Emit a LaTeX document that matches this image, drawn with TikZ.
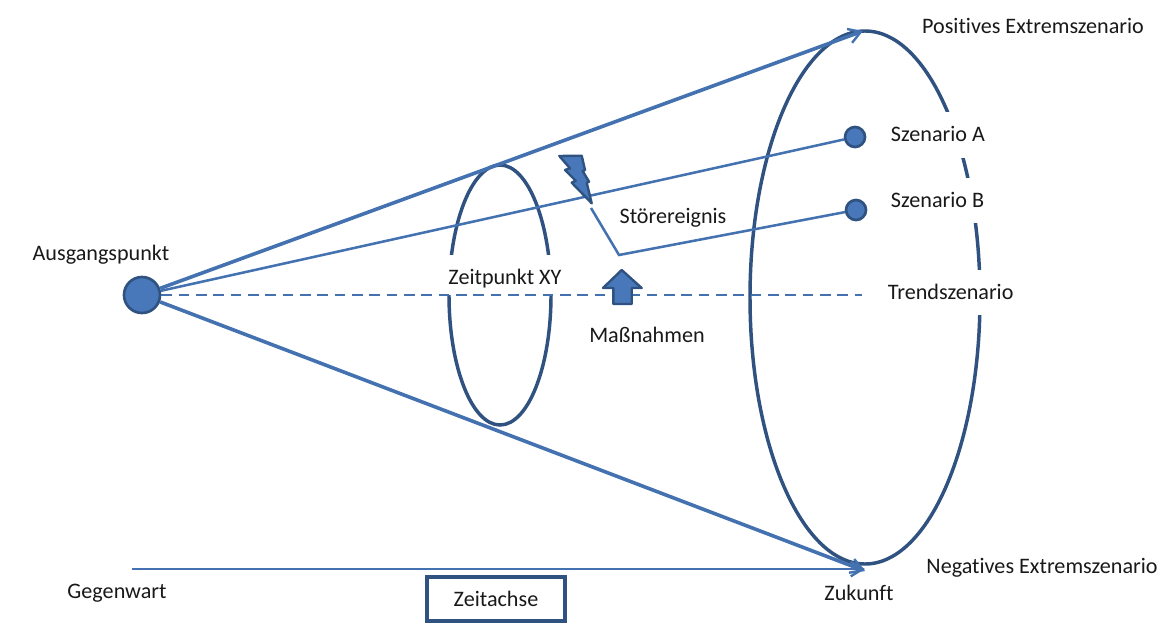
\documentclass[tikz,border=0pt]{standalone}
\usepackage{fontspec}
\setmainfont{Carlito}[Ligatures=NoCommon]
\usetikzlibrary{arrows.meta,calc,positioning,shapes.geometric}
\definecolor{rimblue}{RGB}{47,82,128}
\definecolor{lineblue}{RGB}{68,114,176}
\definecolor{fillblue}{RGB}{72,120,186}
\tikzset{
  lab/.style={font=\fontsize{16.6}{18}\selectfont,text=black!90,inner sep=0pt},
  cover/.style={lab,fill=white,text height=22pt,text depth=12pt,inner xsep=2pt},
  rim/.style={ellipse,draw=rimblue,line width=2.6pt,inner sep=0pt},
  ray/.style={draw=lineblue,line width=2.7pt},
  thinray/.style={draw=lineblue,line width=1.9pt},
  tip/.style={-{Straight Barb[length=9pt,width=11pt,line width=1.8pt]}},
  dot/.style={circle,draw=rimblue,fill=fillblue,line width=2pt,inner sep=0pt}
}
\begin{document}
\begin{tikzpicture}[x=0.75pt,y=-0.75pt]
  \useasboundingbox (0,0) rectangle (1170,628);
  % Ellipses first, the labels blank them out.
  \node[rim,minimum width=172.5pt,minimum height=399.75pt] (far) at (865,297.5) {};
  \node[rim,minimum width=76.5pt,minimum height=195pt] (near) at (500,295) {};
  \node[cover,anchor=west] (labA) at (888,135) {Szenario A};
  \node[cover,anchor=west] (labB) at (888,200.5) {Szenario B};
  \node[cover,anchor=west] (labT) at (885,292.5) {Trendszenario};
  \node[cover,text height=21.75pt,text depth=8.25pt] (labXY) at (505,275) {Zeitpunkt XY};
  % Start point and scenario ends.
  \node[dot,minimum size=27pt] (start) at (142,295) {};
  \node[dot,minimum size=15pt] (endA) at (855,137) {};
  \node[dot,minimum size=15pt] (endB) at (856,210) {};
  \coordinate (top) at (863,31);
  \coordinate (bottom) at (865,571);
  \coordinate (trend) at (862,295);
  \coordinate (now) at (132,569);
  \coordinate (later) at (865,569);
  \coordinate (hit) at (591,208);
  \coordinate (bend) at (619,255);
  \draw[ray,tip] (start) -- (top);
  \draw[ray,tip] (start) -- (bottom);
  \draw[thinray,tip] (now) -- (later);
  \draw[thinray] (start) -- (endA);
  \draw[thinray,dashed,dash pattern=on 8pt off 5pt] (start) -- (trend);
  \draw[thinray] (hit) -- (bend) -- (endB);
  % Lightning.
  \draw[rimblue,fill=fillblue,line width=1.8pt,line join=round]
    (559.3,156) -- (581.7,155.7) -- (585,170) -- (582.7,171) -- (589,181.7) -- (586.7,182.7)
    -- (591.7,203.3) -- (571.7,182.7) -- (575.7,180.7) -- (565,170) -- (570,168.3) -- cycle;
  % Block arrow.
  \draw[rimblue,fill=fillblue,line width=1.8pt,line join=round]
    (603,288) -- (621.7,270) -- (641.7,288) -- (631.7,288) -- (631.7,304) -- (613.3,304) -- (613.3,288) -- cycle;
  % Labels.
  \node[lab] (labStart) at (101,255) {Ausgangspunkt};
  \node[lab] (labPos) at (1033,26) {Positives Extremszenario};
  \node[lab] (labNeg) at (1042,568) {Negatives Extremszenario};
  \node[lab] (labStoer) at (673,218) {Störereignis};
  \node[lab] (labMass) at (647,335) {Maßnahmen};
  \node[lab] (labNow) at (117,593) {Gegenwart};
  \node[lab] (labLater) at (859,593) {Zukunft};
  \node[lab,draw=rimblue,line width=3pt,minimum width=103.5pt,minimum height=33pt] (axis) at (496,599) {Zeitachse};
\end{tikzpicture}
\end{document}
